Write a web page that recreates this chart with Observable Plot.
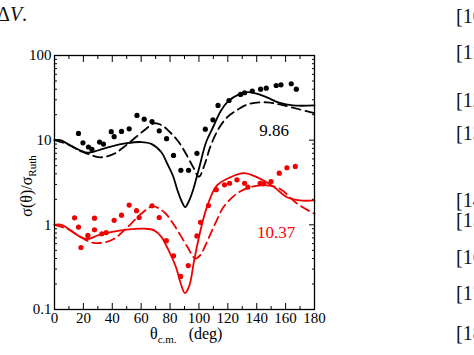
<!DOCTYPE html>
<html>
<head>
<meta charset="utf-8">
<script src="https://cdn.jsdelivr.net/npm/d3@7"></script>
<script src="https://cdn.jsdelivr.net/npm/@observablehq/plot@0.6"></script>
<style>
  html, body { margin: 0; padding: 0; background: white; }
  body { width: 474px; height: 355px; overflow: hidden; position: relative; font-family: "Liberation Serif", "DejaVu Serif", serif; }
  #chart { position: absolute; left: 0; top: 0; }
  .pagetext { position: absolute; font-size: 20px; white-space: nowrap; color: #111; }
  .ylab { position: absolute; left: 27px; top: 186px; transform: translate(-50%, -50%) rotate(-90deg); font-size: 16px; white-space: nowrap; }
  .xlab { position: absolute; left: 150px; top: 326px; font-size: 16px; line-height: 16px; white-space: nowrap; }
  sub { font-size: 11px; vertical-align: -4px; line-height: 0; }
</style>
</head>
<body>
<div id="chart"></div>
<div class="pagetext" style="left:-3px; top:3px;">Δ<i>V</i>.</div>
<div class="pagetext" style="left:456px; top:5px;">[10]</div>
<div class="pagetext" style="left:456px; top:41px;">[11]</div>
<div class="pagetext" style="left:456px; top:89px;">[12]</div>
<div class="pagetext" style="left:456px; top:122px;">[13]</div>
<div class="pagetext" style="left:456px; top:189px;">[14]</div>
<div class="pagetext" style="left:456px; top:209px;">[15]</div>
<div class="pagetext" style="left:456px; top:246px;">[16]</div>
<div class="pagetext" style="left:456px; top:282px;">[17]</div>
<div class="pagetext" style="left:456px; top:322px;">[18]</div>
<div class="ylab">σ(θ)/σ<sub>Ruth</sub></div>
<div class="xlab">θ<sub>c.m.</sub>&nbsp;&nbsp;&nbsp;(deg)</div>
<script>
// Experimental data, 9.86 (black)
const blackDataTheta = [16.6, 19.7, 23.5, 25.9, 31.2, 33.9, 39.3, 41.3, 46.4, 51.7, 57.1, 62.1, 67.5, 72.5, 77.6, 82.4, 87.5, 92.8, 98.6, 104.4, 109.7, 113.2, 120.8, 128.8, 131.6, 136.9, 142.7, 146.6, 153.5, 156.8, 163.9, 167.4];
const blackDataValue = [12.0, 9.3, 8.3, 7.8, 9.5, 9.0, 12.6, 11.0, 12.7, 13.6, 19.6, 17.7, 16.6, 12.9, 10.4, 6.6, 4.4, 4.4, 7.0, 13.5, 17.4, 25.7, 29.4, 34.7, 36.3, 38.0, 40.0, 41.1, 44.2, 45.1, 46.4, 40.0];

// Calculations, 9.86
const blackSolidTheta = [0, 4, 11, 18, 23, 30, 39, 50, 60, 67, 74, 78, 82, 85, 88, 90.5, 93, 96, 100, 105, 110, 115, 120, 128, 134, 140, 147, 156, 165, 180];
const blackSolidValue = [10, 10, 8.65, 7.55, 7.1, 7.55, 8.4, 9.2, 9.5, 9.05, 7.2, 5.3, 3.8, 2.6, 1.9, 1.62, 1.9, 2.6, 4.6, 9.5, 14.5, 22, 28.5, 35, 37, 35.5, 32, 27.5, 25.7, 25.7];
const blackDashTheta = [0, 10, 18, 24, 30, 36, 42, 48, 55, 62, 69, 74, 80, 86, 91, 96, 100, 104, 108, 114, 120, 127, 135, 147, 156, 168, 180];
const blackDashValue = [10, 8.8, 7.4, 6.8, 6.3, 6.4, 7.0, 8.3, 10.4, 13, 15.8, 15.1, 12.4, 9.5, 6.9, 4.8, 3.7, 5.2, 8.5, 14, 19, 23, 26.9, 28, 26.4, 23.5, 20.8];

// Experimental data, 10.37 (red)
const redDataTheta = [13.9, 16.6, 18.3, 23.1, 27.7, 27.7, 32.8, 35.8, 41.3, 46.4, 51.7, 56.8, 58.6, 67.5, 72.5, 77.4, 82.4, 87.3, 92.6, 98.6, 101.1, 106.6, 112.0, 117.7, 121.2, 126.3, 131.6, 133.9, 142.4, 144.7, 149.9, 155.6, 160.9, 166.7];
const redDataValue = [1.21, 0.94, 0.54, 0.75, 1.2, 0.875, 0.785, 0.81, 1.13, 1.30, 1.71, 1.47, 1.22, 1.68, 1.22, 0.65, 0.43, 0.246, 0.33, 0.74, 1.07, 1.69, 2.6, 2.97, 3.1, 3.4, 3.1, 2.79, 3.1, 3.05, 3.25, 4.07, 4.72, 4.9];

// Calculations, 10.37
const redSolidTheta = [0, 5, 11, 18, 23, 30, 39, 50, 62, 69, 74, 79, 84, 87.5, 90.3, 93.3, 96.7, 101, 105.5, 112.5, 122, 131, 140, 152, 161, 170, 180];
const redSolidValue = [1.0, 1.0, 0.86, 0.72, 0.68, 0.75, 0.82, 0.88, 0.90, 0.86, 0.72, 0.50, 0.32, 0.20, 0.156, 0.19, 0.38, 0.85, 1.62, 2.92, 3.66, 4.07, 3.66, 2.79, 2.12, 1.94, 1.94];
const redDashTheta = [0, 10, 18, 25, 32, 41, 50.6, 60, 68, 76, 83, 92, 97.5, 101, 104, 108, 112, 117, 126, 135.5, 147, 156, 168, 180];
const redDashValue = [1.0, 0.88, 0.72, 0.625, 0.61, 0.68, 0.94, 1.35, 1.65, 1.41, 0.98, 0.55, 0.40, 0.44, 0.55, 0.78, 1.1, 1.62, 2.32, 2.79, 2.92, 2.67, 1.78, 1.35];

// Labels
const labels = [
  {theta: 152, value: 13, text: "9.86", color: "black"},
  {theta: 153.5, value: 0.82, text: "10.37", color: "red"}
];

const xMajor = [0, 20, 40, 60, 80, 100, 120, 140, 160, 180];
const xMinor = [10, 30, 50, 70, 90, 110, 130, 150, 170];
const yMajor = [0.1, 1, 10, 100];
const yMinor = [0.2,0.3,0.4,0.5,0.6,0.7,0.8,0.9,2,3,4,5,6,7,8,9,20,30,40,50,60,70,80,90];

const zip = (t, v) => t.map((d, i) => ({theta: d, value: v[i]}));

const blackData = zip(blackDataTheta, blackDataValue);
const blackSolid = zip(blackSolidTheta, blackSolidValue);
const blackDash = zip(blackDashTheta, blackDashValue);
const redData = zip(redDataTheta, redDataValue);
const redSolid = zip(redSolidTheta, redSolidValue);
const redDash = zip(redDashTheta, redDashValue);

const RED = "#f00000";
const SERIF = "'Liberation Serif', 'DejaVu Serif', serif";
const none = () => "";

const chart = Plot.plot({
  width: 474,
  height: 355,
  marginLeft: 54,
  marginRight: 160,
  marginTop: 55,
  marginBottom: 46,
  style: {fontFamily: SERIF, fontSize: "14px", color: "black", background: "transparent", overflow: "visible"},
  x: {domain: [0, 180]},
  y: {type: "log", domain: [0.1, 100]},
  marks: [
    Plot.axisX({anchor: "bottom", ticks: xMajor, tickSize: -6, tickPadding: 9, tickFormat: d => String(d), label: null, fontSize: 15, fontFamily: SERIF}),
    Plot.axisX({anchor: "bottom", ticks: xMinor, tickSize: -3, tickFormat: none, label: null}),
    Plot.axisX({anchor: "top", ticks: xMajor, tickSize: -6, tickFormat: none, label: null}),
    Plot.axisX({anchor: "top", ticks: xMinor, tickSize: -3, tickFormat: none, label: null}),
    Plot.axisY({anchor: "left", ticks: yMajor, tickSize: -6, tickPadding: 9, tickFormat: d => String(d), label: null, fontSize: 15, fontFamily: SERIF}),
    Plot.axisY({anchor: "left", ticks: yMinor, tickSize: -3, tickFormat: none, label: null}),
    Plot.axisY({anchor: "right", ticks: yMajor, tickSize: -6, tickFormat: none, label: null}),
    Plot.axisY({anchor: "right", ticks: yMinor, tickSize: -3, tickFormat: none, label: null}),
    Plot.line(blackSolid, {x: "theta", y: "value", stroke: "black", strokeWidth: 1.8, curve: "catmull-rom"}),
    Plot.line(blackDash, {x: "theta", y: "value", stroke: "black", strokeWidth: 1.8, strokeDasharray: "9,5", curve: "catmull-rom"}),
    Plot.line(redSolid, {x: "theta", y: "value", stroke: RED, strokeWidth: 1.8, curve: "catmull-rom"}),
    Plot.line(redDash, {x: "theta", y: "value", stroke: RED, strokeWidth: 1.8, strokeDasharray: "9,5", curve: "catmull-rom"}),
    Plot.dot(blackData, {x: "theta", y: "value", r: 2.6, fill: "black", stroke: null}),
    Plot.dot(redData, {x: "theta", y: "value", r: 2.6, fill: RED, stroke: null}),
    Plot.text(labels, {x: "theta", y: "value", text: "text", fill: "color", fontSize: 17, fontFamily: SERIF, textAnchor: "middle"}),
    Plot.frame({stroke: "black", strokeWidth: 1.3})
  ]
});
document.getElementById("chart").appendChild(chart);
</script>
</body>
</html>
